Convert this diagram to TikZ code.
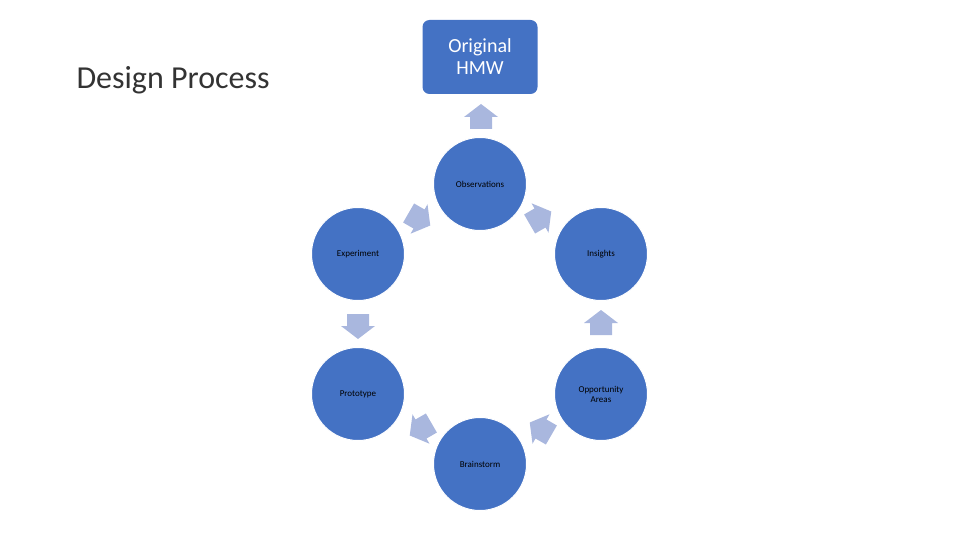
\documentclass[tikz,border=0pt]{standalone}
\usepackage{fontspec}
\setmainfont{Carlito}
\begin{document}
\begin{tikzpicture}[x=1pt,y=-1pt,
  circ/.style={circle,fill=cblue,draw=white,line width=1pt,minimum size=93pt,inner sep=0pt,align=center,font=\fontsize{9}{10}\selectfont,text=black},
  barrow/.pic={\fill[ablue] (-12,-11)--(0,-11)--(0,-17)--(13,0)--(0,17)--(0,11)--(-12,11)--cycle;}]
\definecolor{cblue}{HTML}{4472C4}
\definecolor{ablue}{HTML}{A9B7DE}
\useasboundingbox (0,0) rectangle (960,540);
\node[anchor=west,font=\fontsize{32}{36}\selectfont,text=black!80] (title) at (73,80) {Design Process};
\node[fill=cblue,rounded corners=7pt,minimum width=115pt,minimum height=74pt,align=center,text=white,font=\fontsize{20}{22}\selectfont] (hmw) at (480,57) {Original\\HMW};
\node[circ] (obs) at (480,184) {Observations};
\node[circ] (ins) at (601,254) {Insights};
\node[circ] (opp) at (601,394) {Opportunity\\Areas};
\node[circ] (bra) at (480,464) {Brainstorm};
\node[circ] (pro) at (358,394) {Prototype};
\node[circ] (exp) at (358,254) {Experiment};
\pic[rotate=90] at (481,117) {barrow};
\pic[rotate=30] at (540,218) {barrow};
\pic[rotate=90] at (601,323) {barrow};
\pic[rotate=150] at (541,429) {barrow};
\pic[rotate=210] at (421,429) {barrow};
\pic[rotate=270] at (358,326) {barrow};
\pic[rotate=330] at (419,219) {barrow};
\end{tikzpicture}
\end{document}
